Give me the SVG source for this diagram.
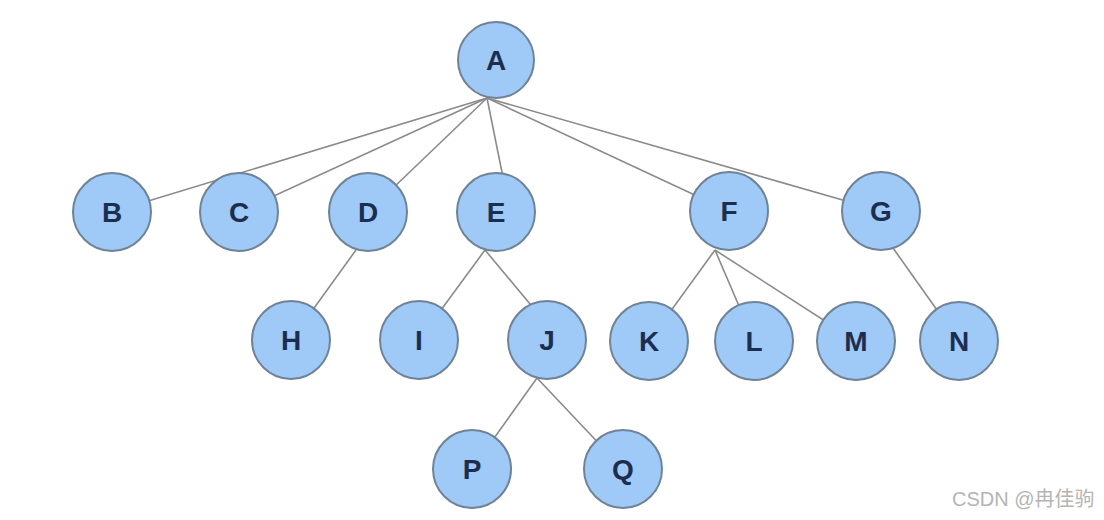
<svg xmlns="http://www.w3.org/2000/svg" width="1104" height="520" viewBox="0 0 1104 520">
<style>
.e{stroke:#8a8a8a;stroke-width:1.6;fill:none}
.n circle{fill:#9fc9f6;stroke:#6f8296;stroke-width:2}
.n text{font-family:"Liberation Sans",Arial,sans-serif;font-weight:bold;font-size:28px;fill:#1c2e4e;text-anchor:middle}
.wm{font-family:"Liberation Sans","Noto Sans CJK SC",sans-serif;font-size:20px;fill:#b4b4b4}
</style>
<rect width="1104" height="520" fill="#ffffff"/>
<g id="connectors">
<line class="e" x1="487" y1="98" x2="112" y2="212"/>
<line class="e" x1="487" y1="98" x2="239" y2="212"/>
<line class="e" x1="487" y1="98" x2="368" y2="212"/>
<line class="e" x1="487" y1="98" x2="510" y2="212"/>
<line class="e" x1="487" y1="98" x2="729" y2="211"/>
<line class="e" x1="487" y1="98" x2="881" y2="211"/>
<line class="e" x1="356" y1="250" x2="291" y2="340"/>
<line class="e" x1="485" y1="250" x2="419" y2="340"/>
<line class="e" x1="485" y1="250" x2="560" y2="340"/>
<line class="e" x1="715" y1="250" x2="649" y2="341"/>
<line class="e" x1="715" y1="250" x2="754" y2="341"/>
<line class="e" x1="715" y1="250" x2="856" y2="341"/>
<line class="e" x1="893" y1="248" x2="959" y2="341"/>
<line class="e" x1="537" y1="378" x2="472" y2="469"/>
<line class="e" x1="537" y1="378" x2="623" y2="469"/>
</g>
<g id="A" class="n"><circle cx="496" cy="60" r="38"/><text x="496" y="70">A</text></g>
<g id="B" class="n"><circle cx="112" cy="212" r="39"/><text x="112" y="222">B</text></g>
<g id="C" class="n"><circle cx="239" cy="212" r="39"/><text x="239" y="222">C</text></g>
<g id="D" class="n"><circle cx="368" cy="212" r="39"/><text x="368" y="222">D</text></g>
<g id="E" class="n"><circle cx="496" cy="212" r="39"/><text x="496" y="222">E</text></g>
<g id="F" class="n"><circle cx="729" cy="211" r="39"/><text x="729" y="221">F</text></g>
<g id="G" class="n"><circle cx="881" cy="211" r="39"/><text x="881" y="221">G</text></g>
<g id="H" class="n"><circle cx="291" cy="340" r="39"/><text x="291" y="350">H</text></g>
<g id="I" class="n"><circle cx="419" cy="340" r="39"/><text x="419" y="350">I</text></g>
<g id="J" class="n"><circle cx="547" cy="340" r="39"/><text x="547" y="350">J</text></g>
<g id="K" class="n"><circle cx="649" cy="341" r="39"/><text x="649" y="351">K</text></g>
<g id="L" class="n"><circle cx="754" cy="341" r="39"/><text x="754" y="351">L</text></g>
<g id="M" class="n"><circle cx="856" cy="341" r="39"/><text x="856" y="351">M</text></g>
<g id="N" class="n"><circle cx="959" cy="341" r="39"/><text x="959" y="351">N</text></g>
<g id="P" class="n"><circle cx="472" cy="469" r="39"/><text x="472" y="479">P</text></g>
<g id="Q" class="n"><circle cx="623" cy="469" r="39"/><text x="623" y="479">Q</text></g>
<text class="wm" x="952" y="506">CSDN @冉佳驹</text>
</svg>
